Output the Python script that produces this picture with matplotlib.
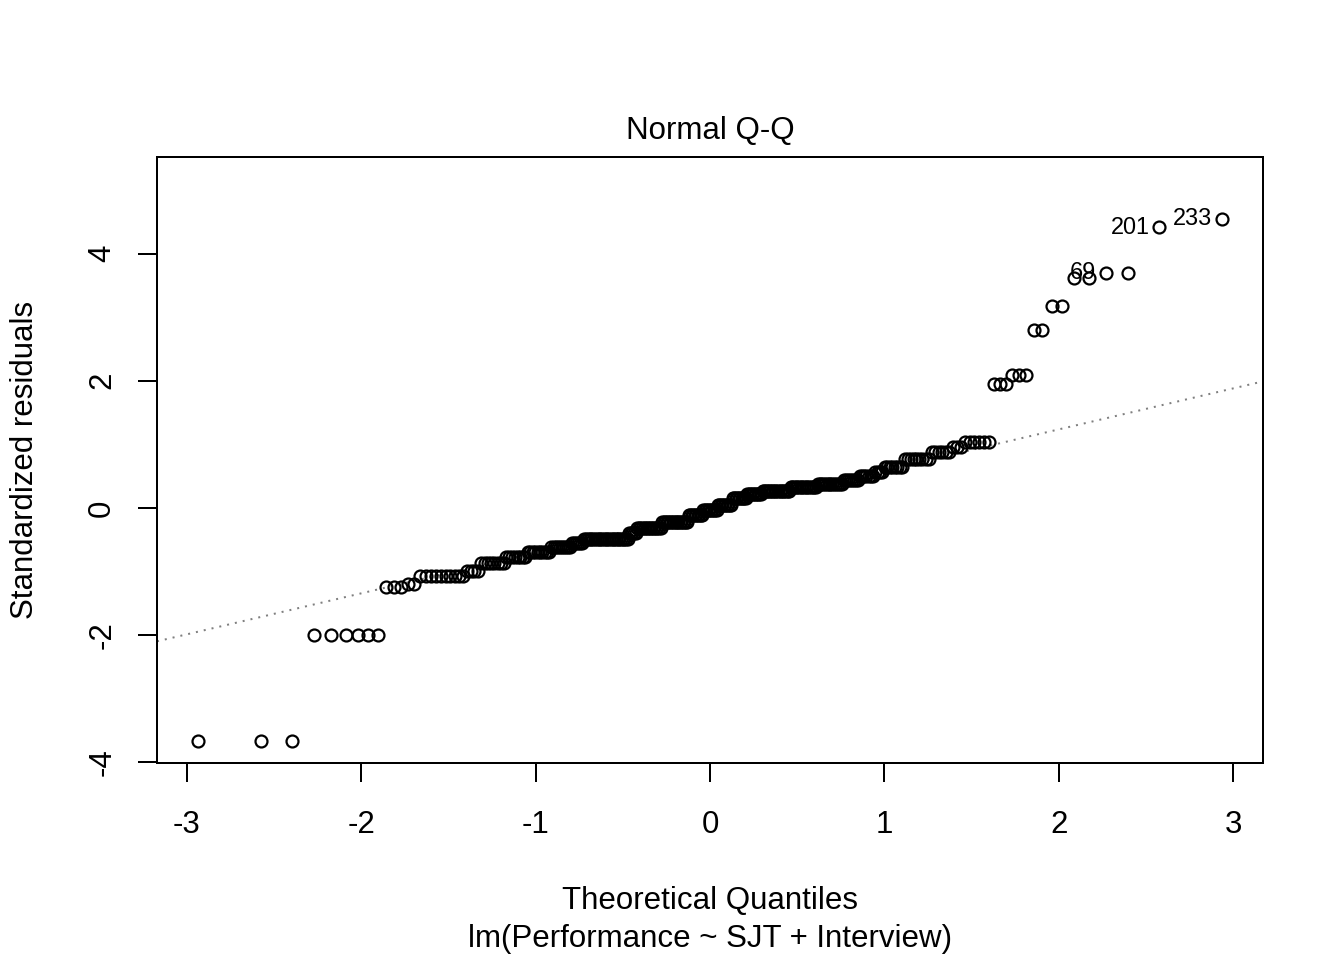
import numpy as np
import matplotlib
matplotlib.use("Agg")
import matplotlib.pyplot as plt
from statistics import NormalDist

# Sorted standardized residuals as (level, count) runs
resid_levels = [-3.66, -2.00, -1.24, -1.19, -1.07, -0.99, -0.86, -0.78, -0.70, -0.62,
                -0.55, -0.49, -0.40, -0.31, -0.22, -0.12, -0.04, 0.05, 0.15, 0.22,
                0.27, 0.33, 0.38, 0.44, 0.50, 0.56, 0.65, 0.77, 0.88, 0.96,
                1.04, 1.95, 2.09, 2.79, 3.18, 3.61, 3.70, 4.41, 4.55]
resid_counts = [3, 6, 3, 2, 10, 4, 8, 8, 10, 10,
                6, 26, 5, 16, 18, 10, 10, 10, 10, 10,
                18, 16, 14, 8, 7, 4, 8, 9, 6, 3,
                6, 3, 3, 2, 2, 2, 2, 1, 1]
id_labels = ["69", "201", "233"]
id_ranks = [297, 299, 300]          # rank (1-based) in the sorted residuals
x_ticks = [-3, -2, -1, 0, 1, 2, 3]
y_ticks = [-4, -2, 0, 2, 4]

title = "Normal Q-Q"
xlab = "Theoretical Quantiles"
sublab = "lm(Performance ~ SJT + Interview)"
ylab = "Standardized residuals"

plt.rcParams['font.family'] = ['Liberation Sans', 'DejaVu Sans']
FS = 22.5

resid = np.repeat(resid_levels, resid_counts)
n = len(resid)
a = 0.375 if n <= 10 else 0.5
pp = (np.arange(1, n + 1) - a) / (n + 1 - 2 * a)
nd = NormalDist()
theo = np.array([nd.inv_cdf(v) for v in pp])

W, H = 1344, 960
fig = plt.figure(figsize=(W / 100, H / 100), dpi=100)
L, R, T, B = 157, 1263, 157, 763
ax = fig.add_axes([L / W, 1 - B / H, (R - L) / W, (B - T) / H])

ax.plot(theo, resid, linestyle='none', marker='o', markersize=8.6,
        markerfacecolor='none', markeredgecolor='black', markeredgewidth=1.6)

# qqline through quartiles (R type 7)
yq = np.quantile(resid, [0.25, 0.75])
xq = np.array([nd.inv_cdf(0.25), nd.inv_cdf(0.75)])
slope = (yq[1] - yq[0]) / (xq[1] - xq[0])
inter = yq[0] - slope * xq[0]
ax.axline((0, inter), slope=slope, color='#7f7f7f', linewidth=1.44,
          linestyle=(0, (1, 3)), zorder=1)

# limits like R plot.lm
xr = [theo.min(), theo.max()]
xd = xr[1] - xr[0]
ax.set_xlim(xr[0] - 0.04 * xd, xr[1] + 0.04 * xd)
yr = [resid.min(), resid.max()]
yr[1] = yr[1] + 0.075 * (yr[1] - yr[0])
yd = yr[1] - yr[0]
ax.set_ylim(yr[0] - 0.04 * yd, yr[1] + 0.04 * yd)

for lab, rk in zip(id_labels, id_ranks):
    ax.annotate(lab, (theo[rk - 1], resid[rk - 1]), xytext=(-7, 0),
                textcoords='offset points', ha='right', va='center',
                fontsize=FS * 0.75)

ax.set_xticks(x_ticks)
ax.set_xticklabels([str(v) for v in x_ticks])
ax.set_yticks(y_ticks)
ax.set_yticklabels([str(v) for v in y_ticks], rotation=90, va='center')
ax.tick_params(axis='both', direction='out', length=13.7, width=1.44,
               labelsize=FS, color='black')
ax.tick_params(axis='x', pad=20)
ax.tick_params(axis='y', pad=15)
for s in ax.spines.values():
    s.set_linewidth(1.44)

def fx(px):
    return px / W

def fy(py):
    return 1 - py / H

fig.text(fx(710), fy(131), title, ha='center', va='center', fontsize=FS)
fig.text(fx(710), fy(901), xlab, ha='center', va='center', fontsize=FS)
fig.text(fx(710), fy(939), sublab, ha='center', va='center', fontsize=FS)
fig.text(fx(25), fy(460), ylab, ha='center', va='center', fontsize=FS, rotation=90)

fig.savefig("out.png", dpi=100, facecolor='white')
